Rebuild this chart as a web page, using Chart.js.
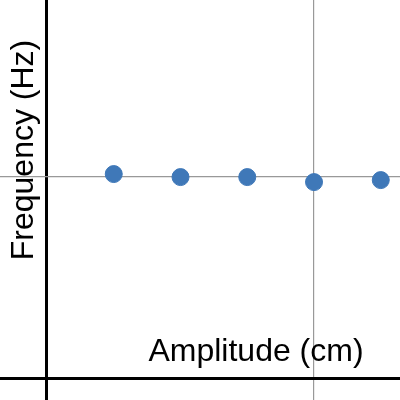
<!DOCTYPE html>
<html><head><script src="https://cdn.jsdelivr.net/npm/chart.js"></script>
<style>html,body{margin:0;padding:0;background:#fff}</style></head>
<body><canvas id="c" width="400" height="400"></canvas>
<script>
const amplitudes=[1,2,3,4,5];
const frequencies=[1.015,1.0,1.0,0.975,0.985];
const xTicks=[0,4];
const yTicks=[0,1];
const xLabel="Amplitude (cm)";
const yLabel="Frequency (Hz)";
const labelsPlugin={id:'lbl',afterDraw(ch){const c=ch.ctx;c.save();c.fillStyle='#000';c.font='32px "Liberation Sans", Arial, sans-serif';c.textBaseline='middle';c.textAlign='center';c.fillText(xLabel,256,352);c.translate(24,150);c.rotate(-Math.PI/2);c.fillText(yLabel,0,0);c.restore();}};
const gridOpt=(ticks)=>({display:true,afterBuildTicks:a=>{a.ticks=ticks.map(v=>({value:v}))},ticks:{display:false},border:{display:false},
 grid:{drawTicks:false,color:c=>c.tick&&c.tick.value===0?'#000':'#999',lineWidth:c=>c.tick&&c.tick.value===0?3:1.2}});
new Chart(document.getElementById('c'),{type:'scatter',
 data:{datasets:[{data:amplitudes.map((x,i)=>({x,y:frequencies[i]})),backgroundColor:'#3f78b8',borderColor:'#3f78b8',pointRadius:8.5,clip:false}]},
 options:{responsive:false,animation:false,layout:{padding:0,autoPadding:false},plugins:{legend:{display:false},tooltip:{enabled:false}},
 scales:{x:{type:'linear',min:-0.704,max:5.288,...gridOpt(xTicks)},y:{type:'linear',min:-0.109,max:1.881,...gridOpt(yTicks)}}},
 plugins:[labelsPlugin]});
</script></body></html>
